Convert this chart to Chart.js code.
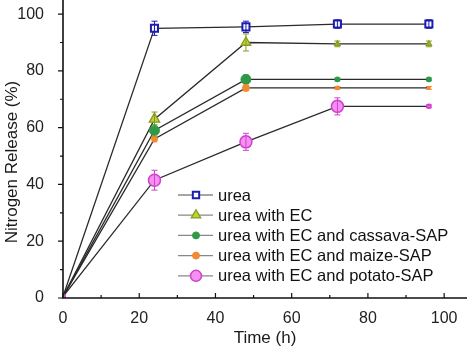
<!DOCTYPE html>
<html>
<head>
<meta charset="utf-8">
<script src="https://cdn.jsdelivr.net/npm/chart.js"></script>
<style>
  html, body { margin: 0; padding: 0; background: #fff; }
  #wrap { width: 474px; height: 348px; }
</style>
</head>
<body>
<div id="wrap"><canvas id="releaseChart"></canvas></div>
<script>
const times = [0, 24, 48, 72, 96];
const seriesNames = ['urea', 'urea with EC', 'urea with EC and cassava-SAP', 'urea with EC and maize-SAP', 'urea with EC and potato-SAP'];
const urea = [0.5, 95, 95.5, 96.5, 96.5];
const ureaEC = [0.5, 63, 90, 89.5, 89.5];
const cassava = [0.5, 59, 77, 77, 77];
const maize = [0.5, 56, 74, 74, 74];
const potato = [0.5, 41.5, 55, 67.5, 67.5];
const ureaErr = [0, 2.5, 2, 1.5, 1.5];
const ureaECErr = [0, 2.5, 3, 1, 1];
const cassavaErr = [0, 2, 1.5, 0.5, 0.5];
const maizeErr = [0, 1, 1, 0.5, 0.5];
const potatoErr = [0, 3.5, 3, 3, 0.5];
const xTicks = [0, 20, 40, 60, 80, 100];
const yTicks = [0, 20, 40, 60, 80, 100];
const xTitle = 'Time (h)';
const yTitle = 'Nitrogen Release (%)';

const FONT = '"Liberation Sans", Arial, sans-serif';

const styles = [
  { shape: 'rect', r: [2, 5, 5, 5, 5], fill: 'rgba(255,255,255,0.9)', edge: '#1c1cb0', rot: 0, bw: 2, lr: 4.5 },
  { shape: 'triangle', r: [2, 6, 5.5, 3, 3], fill: '#bcd334', edge: '#8a9a20', rot: 0, bw: 1.3, lr: 5.5 },
  { shape: 'circle', r: [2, 5, 5, 2.5, 2.5], fill: '#2e9a48', edge: '#2e9a48', rot: 0, bw: 1, lr: 3.5 },
  { shape: 'circle', r: [2, 3, 3.5, 2, 1.5], fill: '#f28a32', edge: '#f28a32', rot: 0, bw: 1, lr: 3.5 },
  { shape: 'circle', r: [2, 6, 6, 6, 2], fill: '#f590f0', edge: '#d040d0', rot: 0, bw: 1.5, lr: 5.5 }
];
const values = [urea, ureaEC, cassava, maize, potato];
const errors = [ureaErr, ureaECErr, cassavaErr, maizeErr, potatoErr];

const datasets = values.map(function (v, i) {
  const s = styles[i];
  return {
    label: seriesNames[i],
    data: times.map(function (t, j) { return { x: t, y: v[j] }; }),
    borderColor: '#2a2a2a',
    borderWidth: 1.3,
    pointStyle: s.shape,
    pointRadius: s.r,
    pointRotation: s.rot,
    pointBackgroundColor: s.fill,
    pointBorderColor: s.edge,
    pointBorderWidth: s.bw,
    tension: 0,
    order: 5 - i
  };
});

const errorBars = {
  id: 'errorBars',
  afterDatasetsDraw(chart) {
    const ctx = chart.ctx, xs = chart.scales.x, ys = chart.scales.y;
    ctx.save();
    errors.forEach(function (err, i) {
      ctx.strokeStyle = styles[i].edge;
      ctx.lineWidth = 1;
      values[i].forEach(function (v, j) {
        if (!err[j]) return;
        const px = xs.getPixelForValue(times[j]);
        const top = ys.getPixelForValue(v + err[j]);
        const bot = ys.getPixelForValue(v - err[j]);
        ctx.beginPath();
        ctx.moveTo(px, top); ctx.lineTo(px, bot);
        ctx.moveTo(px - 3, top); ctx.lineTo(px + 3, top);
        ctx.moveTo(px - 3, bot); ctx.lineTo(px + 3, bot);
        ctx.stroke();
      });
    });
    ctx.restore();
  }
};

const axesAndLegend = {
  id: 'axesAndLegend',
  afterDraw(chart) {
    const ctx = chart.ctx, xs = chart.scales.x, ys = chart.scales.y, a = chart.chartArea;
    ctx.save();
    // axis lines (left axis runs up to the canvas top like the original)
    ctx.strokeStyle = '#111';
    ctx.lineWidth = 1.6;
    ctx.beginPath();
    ctx.moveTo(a.left, 0); ctx.lineTo(a.left, a.bottom); ctx.lineTo(a.right, a.bottom);
    ctx.stroke();
    // ticks: y outward, x inward
    ctx.lineWidth = 1.2;
    ctx.beginPath();
    for (let v = 0; v <= 100; v += 10) {
      const len = v % 20 === 0 ? 5 : 3;
      const py = ys.getPixelForValue(v);
      ctx.moveTo(a.left, py); ctx.lineTo(a.left - len, py);
      const px = xs.getPixelForValue(v);
      ctx.moveTo(px, a.bottom); ctx.lineTo(px, a.bottom - len);
    }
    ctx.stroke();
    // titles
    ctx.fillStyle = '#1a1a1a';
    ctx.font = '17px ' + FONT;
    ctx.textAlign = 'center';
    ctx.textBaseline = 'middle';
    ctx.fillText(xTitle, (a.left + a.right) / 2, 338);
    ctx.save();
    ctx.translate(12, 162);
    ctx.rotate(-Math.PI / 2);
    ctx.fillText(yTitle, 0, 0);
    ctx.restore();
    // legend
    const lx = a.left + 115, ly = 195, gap = 20.2;
    ctx.font = '16.5px ' + FONT;
    ctx.textAlign = 'left';
    seriesNames.forEach(function (name, i) {
      const y = ly + i * gap, s = styles[i];
      ctx.strokeStyle = '#888';
      ctx.lineWidth = 1.3;
      ctx.beginPath(); ctx.moveTo(lx, y); ctx.lineTo(lx + 35, y); ctx.stroke();
      ctx.fillStyle = s.fill; ctx.strokeStyle = s.edge; ctx.lineWidth = s.bw;
      Chart.helpers.drawPoint(ctx, { pointStyle: s.shape, radius: s.lr, rotation: s.rot, borderWidth: s.bw }, lx + 18, y);
      ctx.fillStyle = '#111';
      ctx.fillText(name, lx + 40, y + 1);
    });
    ctx.restore();
  }
};

new Chart(document.getElementById('releaseChart'), {
  type: 'line',
  data: { datasets: datasets },
  options: {
    responsive: true,
    maintainAspectRatio: false,
    animation: false,
    layout: { padding: { top: 0, right: 7, left: 0, bottom: 0 } },
    plugins: { legend: { display: false }, tooltip: { enabled: false } },
    scales: {
      x: {
        type: 'linear', min: 0, max: 106,
        afterBuildTicks: function (s) { s.ticks = xTicks.map(function (v) { return { value: v }; }); },
        afterFit: function (s) { s.height = 50; s.paddingLeft = 0; s.paddingRight = 0; },
        grid: { display: false },
        border: { display: false },
        ticks: { color: '#222', font: { family: FONT, size: 16 }, padding: 3, maxRotation: 0 }
      },
      y: {
        type: 'linear', min: 0, max: 102.5,
        afterBuildTicks: function (s) { s.ticks = yTicks.map(function (v) { return { value: v }; }); },
        afterFit: function (s) { s.width = 63; s.paddingTop = 0; s.paddingBottom = 0; },
        grid: { display: false },
        border: { display: false },
        ticks: { color: '#222', font: { family: FONT, size: 16 }, padding: 11 }
      }
    }
  },
  plugins: [errorBars, axesAndLegend]
});
</script>
</body>
</html>
